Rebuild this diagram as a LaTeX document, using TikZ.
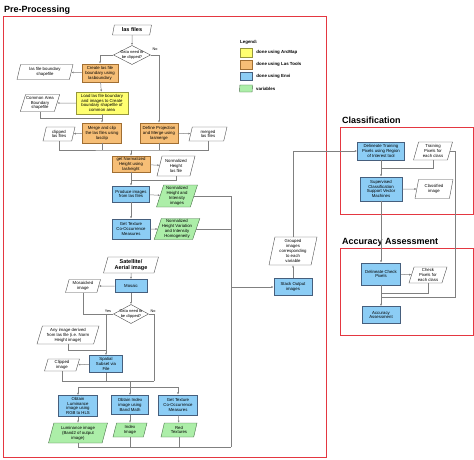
\documentclass[tikz,border=0pt]{standalone}
\usepackage{fontspec}
\setmainfont{Liberation Sans}
\usetikzlibrary{positioning,shapes.geometric,arrows.meta}

\definecolor{lasfill}{RGB}{246,190,118}
\definecolor{lasline}{RGB}{160,110,50}
\definecolor{arcfill}{RGB}{255,255,112}
\definecolor{arcline}{RGB}{150,150,60}
\definecolor{envifill}{RGB}{140,205,245}
\definecolor{enviline}{RGB}{70,95,125}
\definecolor{varfill}{RGB}{172,238,168}
\definecolor{varline}{RGB}{70,110,70}
\definecolor{flowgrey}{RGB}{128,128,128}
\definecolor{boxred}{RGB}{228,55,65}

\tikzset{
  txt/.style={font=\fontsize{4.3}{4.9}\selectfont, align=center, inner sep=0.5pt},
  wh/.style 2 args={minimum width=#1, minimum height=#2},
  lastool/.style={txt, draw=lasline, fill=lasfill, line width=0.5pt},
  arcmap/.style={txt, draw=arcline, fill=arcfill, line width=0.5pt},
  envi/.style={txt, draw=enviline, fill=envifill, line width=0.9pt},
  var/.style={txt, trapezium, trapezium left angle=70, trapezium right angle=110,
    trapezium stretches body, draw=black!70, fill=white, line width=0.4pt},
  gvar/.style={var, draw=varline, fill=varfill},
  ask/.style={txt, diamond, draw=black!70, fill=white, line width=0.4pt,
    inner sep=-3pt, font=\fontsize{4}{4.5}\selectfont},
  link/.style={draw=flowgrey, line width=0.5pt},
  flow/.style={link, -{Latex[length=2.2pt,width=2pt]}},
  region/.style={draw=boxred, line width=1pt},
  heading/.style={font=\fontsize{9}{10}\selectfont\bfseries, anchor=west, inner sep=0pt},
  legtext/.style={font=\fontsize{4.4}{5}\selectfont\bfseries, inner sep=0pt},
  branch/.style={font=\fontsize{3.8}{4}\selectfont, inner sep=0pt},
}

\begin{document}
\begin{tikzpicture}[x=1pt,y=-1pt]
\useasboundingbox (0,0) rectangle (474,460);

\node[heading] (pretitle) at (4,10) {Pre-Processing};
\node[heading] (classtitle) at (342,120) {Classification};
\node[heading] (acctitle) at (342,242) {Accuracy Assessment};
\draw[region] (3,17) rectangle (326,457);
\draw[region] (340,127) rectangle (473,214);
\draw[region] (340,248) rectangle (473,335);

\node[legtext, anchor=west] (legend) at (240,42) {Legend:};
\node[arcmap, wh={12}{9}] (keyarc) at (246,52.5) {};
\node[lastool, wh={12}{9}] (keylas) at (246,64.5) {};
\node[envi, wh={12}{8}, line width=0.5pt] (keyenvi) at (246,76) {};
\node[gvar, wh={13}{7}] (keyvar) at (246,88.5) {};
\node[legtext, right=4pt of keyarc] {done using ArcMap};
\node[legtext, right=4pt of keylas] {done using Las Tools};
\node[legtext, right=4pt of keyenvi] {done using Envi};
\node[legtext, right=3.5pt of keyvar] {variables};

\node[var, wh={39}{10}, font=\fontsize{5.5}{6}\selectfont\bfseries] (lasfiles) at (132,30) {las files};
\node[ask, wh={37}{16}] (clipq) at (132,55) {Data need to\\be clipped?};
\node[lastool, wh={36}{18}] (bound) at (100,73) {Create las file\\boundary using\\lasboundary};
\node[var, wh={56}{15}] (boundshp) at (45,72) {las file boundary\\shapefile};
\node[arcmap, wh={52}{22}] (common) at (102,103) {Load las file boundary\\and images to Create\\boundary shapefile of\\common area};
\node[var, wh={36}{17}] (commonshp) at (40,103) {Common Area\\Boundary\\shapefile};
\node[lastool, wh={39}{20}] (clip) at (102,133) {Merge and clip\\the las files using\\lasclip};
\node[var, wh={32}{14}] (clipped) at (59,134) {clipped\\las files};
\node[lastool, wh={38}{20}] (merge) at (159,133) {Define Projection\\and Merge using\\lasmerge};
\node[var, wh={38}{14}] (merged) at (208,134) {merged\\las files};
\node[lastool, wh={38}{16}] (height) at (131,164) {get Normalized\\Height using\\lasheight};
\node[var, wh={38}{20}] (heightlas) at (176,166) {Normalized\\Height\\las file};
\node[envi, wh={37}{16}] (produce) at (131,194) {Produce images\\from las files};
\node[gvar, wh={41}{22}] (heightimg) at (177,196) {Normalized\\Height and\\Intensity\\images};
\node[envi, wh={38}{20}] (cooc) at (131,229) {Get Texture\\Co-Occurrence\\Measures};
\node[gvar, wh={41}{21}] (homog) at (177,229) {Normalized\\Height Variation\\and Intensity\\Homogeneity};
\node[branch] (no1) at (155,49) {No};

\node[var, wh={55}{16}, font=\fontsize{5.5}{6.2}\selectfont\bfseries] (sat) at (131,265) {Satellite/\\Aerial image};
\node[envi, wh={32}{13}] (mosaic) at (131,286) {Mosaic};
\node[var, wh={35}{13}] (mosaicked) at (83,286) {Mosaicked\\image};
\node[ask, wh={35}{16}] (clipq2) at (131,314) {Data need to\\be clipped?};
\node[var, wh={62}{18}] (anyimg) at (68,335) {Any image derived\\from las file (i.e. Norm\\Height image)};
\node[envi, wh={33}{17}] (subset) at (106,364) {Spatial\\Subset via\\File};
\node[var, wh={35}{12}] (clipimg) at (62,365) {Clipped\\image};
\node[envi, wh={39}{21}] (lum) at (78,406) {Obtain\\Luminance\\image using\\RGB to HLS};
\node[envi, wh={37}{19}] (index) at (130,405) {Obtain Index\\image using\\Band Math};
\node[envi, wh={39}{20}] (cooc2) at (178,405) {Get Texture\\Co-Occurrence\\Measures};
\node[gvar, wh={59}{20}] (lumimg) at (78,433) {Luminance image\\(Band2 of output\\image)};
\node[gvar, wh={34}{14}] (idximg) at (130,430) {Index\\Image};
\node[gvar, wh={36}{14}] (redtex) at (179,430) {Red\\Textures};
\node[branch] (yes2) at (108,311) {Yes};
\node[branch] (no2) at (153,311) {No};

\node[var, wh={48}{28}, trapezium left angle=76, trapezium right angle=104] (grouped) at (293,251) {Grouped\\images\\corresponding\\to each\\variable};
\node[envi, wh={38}{17}] (stack) at (293,287) {Stack Output\\images};

\node[envi, wh={47}{18}] (train) at (381,151) {Delineate Training\\Pixels using Region\\of Interest tool};
\node[var, wh={39}{18}] (trainpx) at (433,151) {Training\\Pixels for\\each class};
\node[envi, wh={42}{24}] (svm) at (381,189) {Supervised\\Classification\\Support Vector\\Machines};
\node[var, wh={38}{19}] (classified) at (434,189) {Classified\\image};
\node[envi, wh={39}{22}] (check) at (381,274) {Delineate Check\\Pixels};
\node[var, wh={38}{16}] (checkpx) at (428,275) {Check\\Pixels for\\each class};
\node[envi, wh={38}{17}] (accuracy) at (381,315) {Accuracy\\Assessment};

\coordinate (j1) at (102,118);
\coordinate (j2) at (131,150);
\coordinate (j3) at (131,180);
\coordinate (jy) at (106,314);
\coordinate (jz) at (106,350);
\coordinate (jn) at (154,381);
\coordinate (j4) at (130,381);
\coordinate (j5) at (130,387);
\coordinate (bus) at (231,447);
\coordinate (jt) at (381,168);
\coordinate (jc) at (455,297);
\coordinate (ja) at (381,297);
\coordinate (jb) at (381,293);

\draw[flow] (lasfiles) -- (clipq);
\draw[flow] (clipq.west) -| (bound.north);
\draw[flow] (clipq.east) -| (merge.north);
\draw[flow] (bound) -- (boundshp);
\draw[flow] (bound) -- (common);
\draw[flow] (common) -- (commonshp);
\draw[link] (commonshp.south) |- (j1);
\draw[flow] (common) -- (clip);
\draw[flow] (clip) -- (clipped);
\draw[flow] (merge) -- (merged);
\draw[link] (clipped.south) |- (j2) -| (merged.south);
\draw[link] (clip.south) -- (clip.south |- j2);
\draw[link] (merge.south) -- (merge.south |- j2);
\draw[flow] (j2) -- (height.north);
\draw[flow] (height) -- (heightlas);
\draw[link] (heightlas.south) |- (j3);
\draw[flow] (height) -- (produce);
\draw[flow] (produce) -- (heightimg);
\draw[flow] (produce) -- (cooc);
\draw[flow] (cooc) -- (homog);

\draw[flow] (sat) -- (mosaic);
\draw[flow] (mosaic) -- (mosaicked);
\draw[flow] (mosaic) -- (clipq2);
\draw[link] (clipq2.west) -- (jy);
\draw[link] (mosaicked.south) |- (jy);
\draw[link] (anyimg.south) |- (jz);
\draw[flow] (jy) -- (subset.north);
\draw[link] (clipq2.east) -| (jn);
\draw[flow] (subset) -- (clipimg);
\draw[link] (clipimg.south) |- (jn);
\draw[link] (subset.south) -- (subset.south |- jn);
\draw[flow] (j4) -- (index.north);
\draw[flow] (j5) -| (lum.north);
\draw[flow] (j5) -| (cooc2.north);
\draw[flow] (lum) -- (lumimg);
\draw[flow] (index) -- (idximg);
\draw[flow] (cooc2) -- (redtex);

\draw[link] (heightimg.east) -| (bus);
\draw[link] (homog.east) -- (homog.east -| bus);
\draw[link] (lumimg.south) |- (bus);
\draw[link] (idximg.south) -- (idximg.south |- bus);
\draw[link] (redtex.south) -- (redtex.south |- bus);
\draw[flow] (stack.west -| bus) -- (stack.west);
\draw[flow] (stack) -- (grouped);
\draw[flow] (grouped.north) |- (train.west);

\draw[flow] (train) -- (svm);
\draw[link] (trainpx.south) |- (jt);
\draw[link] (trainpx.east) -| (jc) -- (ja);
\draw[flow] (svm) -- (classified);
\draw[flow] (svm) -- (check);
\draw[flow] (check) -- (checkpx);
\draw[link] (checkpx.south) |- (jb);
\draw[flow] (check) -- (accuracy);

\end{tikzpicture}
\end{document}
